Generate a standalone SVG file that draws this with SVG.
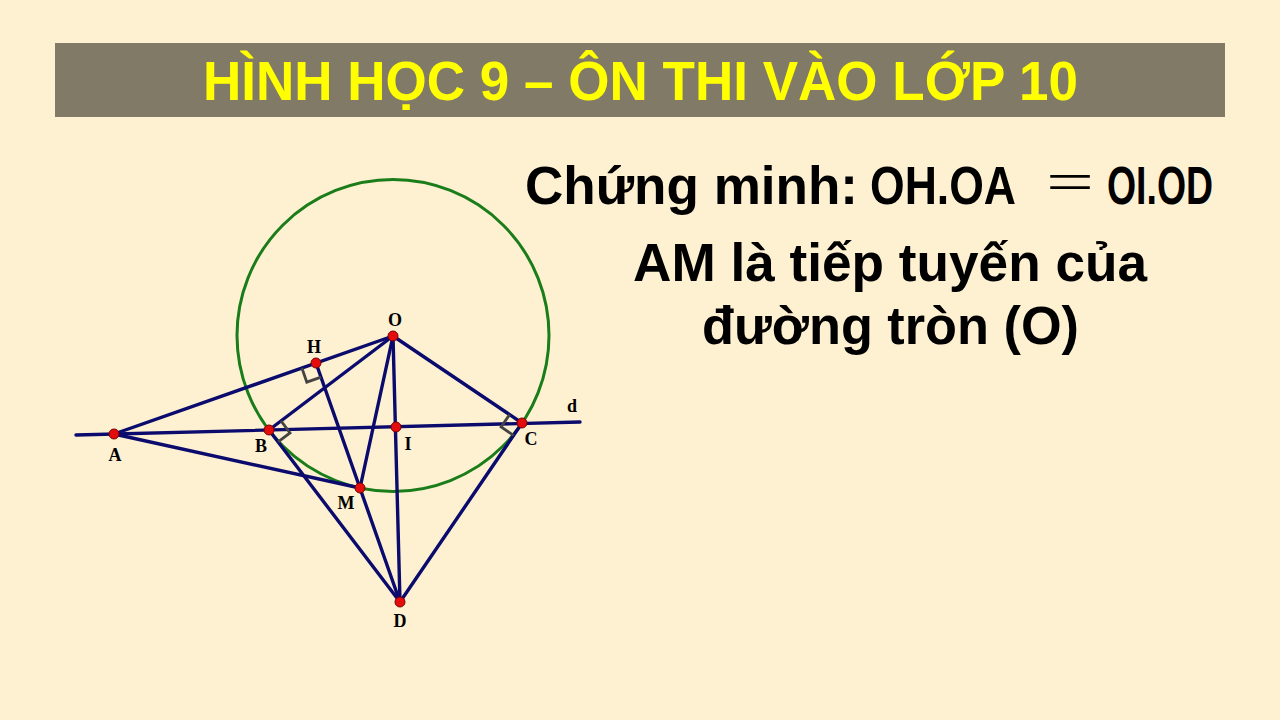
<svg xmlns="http://www.w3.org/2000/svg" width="1280" height="720" viewBox="0 0 1280 720">
<style>
.ln{stroke:#0b0b6e;stroke-width:3.4;stroke-linecap:round;fill:none}
.rt{stroke:#444;stroke-width:2.8;fill:none}
.pt{fill:#e30d0d;stroke:#7a0000;stroke-width:1}
.lb{font-family:"Liberation Serif","Times New Roman",serif;font-weight:bold;font-size:18px;fill:#000;text-anchor:middle}
.tx{font-family:"Liberation Sans",Arial,sans-serif;font-weight:bold;font-size:53px;fill:#000}
</style>
<rect width="1280" height="720" fill="#fef1d2"/>
<g id="title">
<rect x="55" y="43" width="1170" height="74" fill="#807a66"/>
<text x="203" y="100" font-family="Liberation Sans,Arial,sans-serif" font-weight="bold" font-size="55" fill="#ffff00" textLength="875" lengthAdjust="spacingAndGlyphs">HÌNH HỌC 9 – ÔN THI VÀO LỚP 10</text>
</g>
<g id="statement">
<text class="tx" x="525" y="204" textLength="333" lengthAdjust="spacingAndGlyphs">Chứng minh:</text>
<text class="tx" x="870" y="204" textLength="146" lengthAdjust="spacingAndGlyphs">OH.OA</text>
<text x="1046" y="201" font-family="Liberation Serif,serif" font-size="56" fill="#000" textLength="48" lengthAdjust="spacingAndGlyphs">=</text>
<text class="tx" x="1107" y="204" textLength="106" lengthAdjust="spacingAndGlyphs">OI.OD</text>
<text class="tx" x="633" y="281" textLength="514" lengthAdjust="spacingAndGlyphs">AM là tiếp tuyến của</text>
<text class="tx" x="702" y="344" textLength="377" lengthAdjust="spacingAndGlyphs">đường tròn (O)</text>
</g>
<g id="circle-O">
<circle cx="393" cy="335.5" r="156" fill="none" stroke="#1a7d1a" stroke-width="3"/>
</g>
<g id="connectors">
<line class="ln" x1="76" y1="435" x2="580" y2="422"/>
<line class="ln" x1="114" y1="434" x2="393" y2="336"/>
<line class="ln" x1="114" y1="434" x2="360" y2="488"/>
<line class="ln" x1="393" y1="336" x2="269" y2="430"/>
<line class="ln" x1="393" y1="336" x2="522" y2="423"/>
<line class="ln" x1="393" y1="336" x2="360" y2="488"/>
<line class="ln" x1="393" y1="336" x2="400" y2="602"/>
<line class="ln" x1="316" y1="363" x2="400" y2="602"/>
<line class="ln" x1="269" y1="430" x2="400" y2="602"/>
<line class="ln" x1="522" y1="423" x2="400" y2="602"/>
</g>
<g id="right-angles">
<polyline class="rt" points="301.9,368 306.8,382.1 321,377.1"/>
<polyline class="rt" points="281,420.9 290,432.9 278.1,441.9"/>
<polyline class="rt" points="509.6,414.6 501.1,427 513.6,435.4"/>
</g>
<g id="node-O"><circle class="pt" cx="393" cy="336" r="5"/><text class="lb" x="395" y="326">O</text></g>
<g id="node-H"><circle class="pt" cx="316" cy="363" r="5"/><text class="lb" x="314" y="353">H</text></g>
<g id="node-A"><circle class="pt" cx="114" cy="434" r="5"/><text class="lb" x="115" y="461">A</text></g>
<g id="node-B"><circle class="pt" cx="269" cy="430" r="5"/><text class="lb" x="261" y="452">B</text></g>
<g id="node-I"><circle class="pt" cx="396" cy="427" r="5"/><text class="lb" x="408" y="450">I</text></g>
<g id="node-C"><circle class="pt" cx="522" cy="423" r="5"/><text class="lb" x="531" y="445">C</text></g>
<g id="node-M"><circle class="pt" cx="360" cy="488" r="5"/><text class="lb" x="346" y="509">M</text></g>
<g id="node-D"><circle class="pt" cx="400" cy="602" r="5"/><text class="lb" x="400" y="627">D</text></g>
<g id="label-d"><text class="lb" x="572" y="412">d</text></g>
</svg>
